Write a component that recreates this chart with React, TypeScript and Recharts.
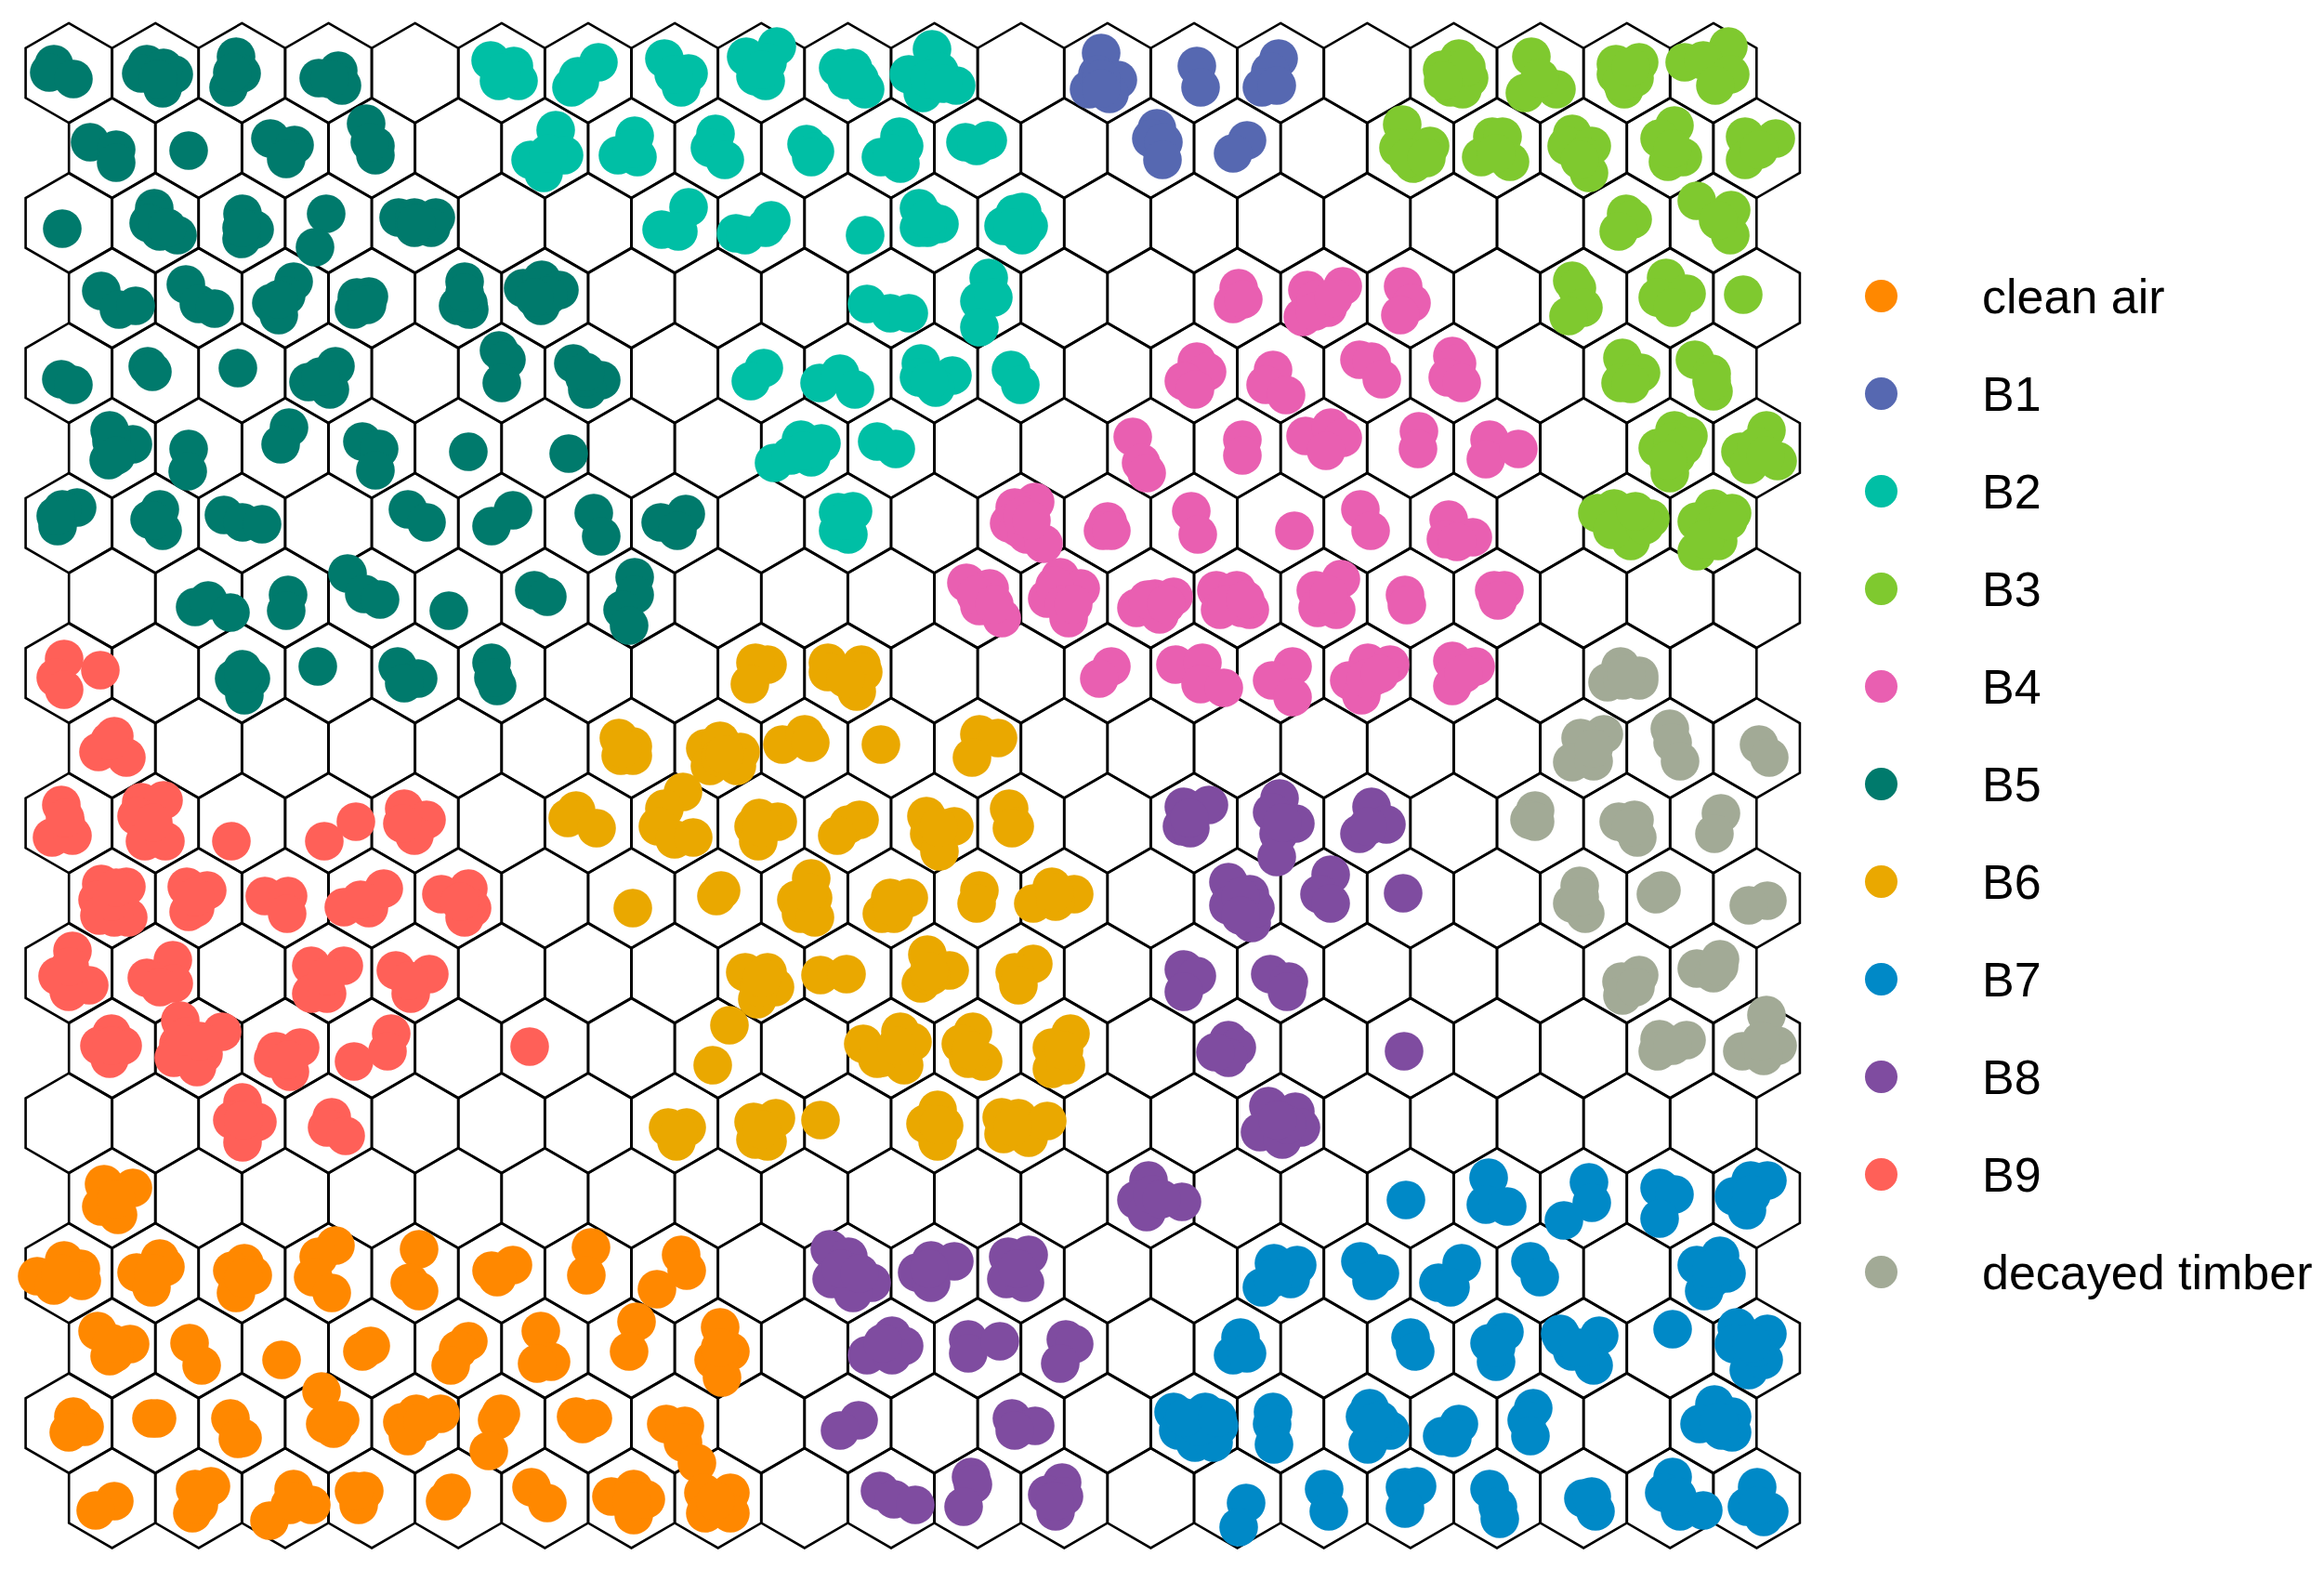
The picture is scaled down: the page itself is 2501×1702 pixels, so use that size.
import { Legend, Scatter, ScatterChart, XAxis, YAxis } from "recharts";

type Pair = [number, number];

// All positions are in map units (one unit = one reference pixel).
const ROW_Y = [78.5, 159.2, 239.9, 320.6, 401.3, 482, 562.7, 643.4, 724.1, 804.8, 885.5, 966.2, 1046.9, 1127.6, 1208.3, 1289, 1369.7, 1450.4, 1531.1, 1611.8];
const ODD_ROW_X = [74, 167.2, 260.3, 353.5, 446.6, 539.8, 632.9, 726.1, 819.2, 912.4, 1005.5, 1098.7, 1191.8, 1285, 1378.1, 1471.3, 1564.4, 1657.6, 1750.7, 1843.9];
const EVEN_ROW_X = [120.6, 213.8, 306.9, 400.1, 493.2, 586.4, 679.5, 772.7, 865.8, 959, 1052.1, 1145.3, 1238.4, 1331.6, 1424.7, 1517.9, 1611, 1704.2, 1797.3, 1890.5];

const cleanAir: Pair[] = [
  [112,1274],[143,1278],[109,1298],[127,1307],[125,1290],
  [40,1373],[69,1356],[87,1365],[58,1383],[88,1378],[65,1370],[172,1354],[178,1363],[147,1369],[163,1385],[165,1370],
  [263,1359],[250,1367],[272,1372],[254,1391],[262,1375],[361,1340],[343,1352],[337,1374],[357,1391],
  [451,1344],[441,1380],[451,1389],[552,1361],[529,1367],[535,1374],[636,1342],[631,1372],
  [733,1350],[739,1367],[707,1387],
  [105,1432],[140,1446],[118,1459],[123,1456],[120,1445],[204,1445],[217,1469],[303,1463],[399,1448],[390,1454],
  [504,1443],[493,1452],[485,1469],[582,1432],[593,1465],[578,1467],[685,1422],[677,1454],
  [775,1428],[786,1454],[768,1463],[777,1482],[775,1450],
  [79,1524],[91,1535],[74,1541],[163,1526],[169,1526],[248,1526],[261,1547],[256,1548],
  [346,1497],[366,1528],[359,1537],[350,1532],[355,1528],[433,1530],[448,1521],[474,1521],[439,1545],[455,1530],
  [539,1521],[535,1528],[526,1561],[620,1524],[638,1526],[627,1532],[717,1532],[737,1534],[735,1552],[750,1574],
  [123,1615],[103,1625],[210,1602],[227,1599],[207,1628],[214,1619],[215,1610],[316,1602],[335,1619],[290,1636],[312,1619],[315,1615],
  [392,1604],[386,1619],[381,1604],[486,1606],[479,1615],[572,1600],[589,1617],
  [658,1610],[682,1602],[682,1630],[695,1613],[680,1615],[757,1606],[786,1606],[759,1628],[786,1628],[770,1615],
];

const b1: Pair[] = [
  [1185,57],[1203,86],[1172,96],[1194,101],[1181,80],[1185,85],[1185,95],[1288,71],[1292,94],
  [1376,63],[1367,77],[1358,94],[1374,92],
  [1245,138],[1239,149],[1252,153],[1251,172],[1342,151],[1327,165],
];

const b2: Pair[] = [
  [528,65],[553,71],[537,87],[558,87],[540,78],[644,67],[622,82],[615,94],[624,88],
  [715,63],[741,79],[733,94],[725,80],[836,50],[803,61],[824,87],[813,82],[826,67],[820,75],
  [902,73],[918,73],[931,96],[911,86],[910,80],[925,85],[1003,53],[978,80],[993,100],[1029,92],[1011,77],[1000,85],[1015,90],
  [598,140],[571,172],[607,167],[585,186],[590,165],[683,146],[686,169],[665,167],[680,160],
  [770,144],[764,159],[780,172],[868,155],[877,163],[873,169],
  [968,147],[973,157],[948,169],[969,176],[960,165],[1039,153],[1063,151],[1051,157],
  [741,223],[712,247],[730,249],[792,251],[802,253],[830,237],[824,245],[931,253],
  [989,224],[1011,241],[989,245],[998,245],[998,235],[1100,228],[1080,243],[1107,243],[1100,253],[1092,230],[1090,245],
  [933,327],[958,337],[978,337],[1064,299],[1054,324],[1069,320],[1054,352],
  [822,396],[808,410],[882,412],[904,402],[920,419],[991,391],[1025,404],[1007,417],[989,406],[1000,410],[1088,398],[1098,414],
  [833,498],[862,473],[884,477],[873,492],[851,490],[865,485],[944,475],[964,483],
  [918,550],[902,551],[913,575],[902,571],[910,560],
];

const b3: Pair[] = [
  [1570,63],[1552,75],[1581,84],[1561,94],[1574,96],[1578,72],[1553,87],[1648,61],[1641,100],[1675,96],[1657,84],
  [1764,67],[1739,69],[1739,80],[1748,96],[1759,84],[1745,88],[1755,72],[1860,50],[1813,67],[1833,65],[1862,80],[1846,92],
  [1509,134],[1505,159],[1539,157],[1521,176],[1515,170],[1535,170],[1606,147],[1617,147],[1594,169],[1625,174],[1610,165],
  [1692,144],[1686,157],[1713,157],[1710,186],[1704,168],[1700,172],[1802,135],[1786,149],[1811,169],[1795,174],[1800,160],
  [1878,147],[1911,149],[1878,172],[1893,161],
  [1750,230],[1757,236],[1742,249],[1826,216],[1863,226],[1862,253],[1849,237],
  [1692,302],[1697,310],[1704,331],[1688,340],[1793,299],[1784,320],[1815,316],[1800,331],[1876,317],
  [1746,385],[1766,401],[1744,412],[1755,413],[1824,387],[1842,402],[1844,421],[1842,410],
  [1802,463],[1817,469],[1784,482],[1797,509],[1804,490],[1800,475],[1812,480],[1795,495],[1901,463],[1873,486],[1913,496],[1882,500],[1890,480],[1900,490],
  [1737,547],[1719,552],[1776,558],[1755,563],[1755,582],[1735,570],[1770,565],[1760,550],
  [1844,547],[1864,552],[1826,561],[1842,575],[1826,593],[1849,582],[1845,565],[1835,580],[1860,560],
];

const b4: Pair[] = [
  [1333,310],[1327,327],[1338,322],[1407,312],[1445,308],[1429,331],[1402,341],[1416,322],[1415,335],[1435,320],[1510,308],[1519,326],[1507,339],
  [1288,389],[1299,400],[1274,410],[1286,419],[1370,398],[1362,414],[1384,425],
  [1463,387],[1476,389],[1487,408],[1563,383],[1568,391],[1558,406],[1573,412],
  [1219,470],[1228,498],[1234,509],[1337,473],[1337,490],[1405,469],[1432,460],[1445,471],[1427,485],
  [1527,464],[1526,483],[1603,473],[1599,494],[1634,483],
  [1114,540],[1092,546],[1086,563],[1096,568],[1105,575],[1123,585],[1100,555],[1110,560],[1192,561],[1187,571],[1196,571],
  [1282,550],[1289,575],[1393,571],[1464,548],[1475,571],[1559,559],[1585,578],[1556,580],[1568,583],
  [1040,627],[1065,633],[1054,652],[1078,665],[1050,640],[1070,650],[1141,621],[1163,633],[1127,644],[1150,665],[1135,630],[1145,650],[1155,650],
  [1223,654],[1263,642],[1248,661],[1243,644],[1235,645],[1255,650],[1309,635],[1331,635],[1345,656],[1313,656],[1336,654],[1320,650],[1340,645],
  [1443,623],[1416,635],[1418,654],[1438,656],[1430,640],[1512,640],[1514,651],[1608,635],[1619,635],[1612,646],
  [1196,717],[1183,730],[1265,715],[1294,713],[1292,736],[1317,740],[1391,717],[1369,732],[1391,750],
  [1472,713],[1496,715],[1452,732],[1465,748],[1478,728],[1470,730],[1485,725],[1563,711],[1588,717],[1563,738],[1575,725],
];

const b5: Pair[] = [
  [58,69],[53,78],[79,85],[158,69],[152,79],[187,80],[175,95],[176,73],[170,85],[254,61],[260,79],[246,94],[250,78],[364,76],[343,84],[368,92],[355,85],
  [97,153],[125,161],[125,175],[203,162],[291,149],[317,156],[308,171],[394,133],[404,157],[404,167],[398,153],
  [67,246],[166,224],[165,232],[172,249],[191,253],[160,240],[180,245],[261,230],[274,247],[260,257],[260,245],[351,230],[339,266],
  [429,234],[446,234],[469,234],[446,245],[464,245],[448,240],
  [109,313],[128,333],[146,329],[200,306],[214,327],[231,332],[316,303],[292,326],[300,339],[308,318],[300,322],
  [397,319],[384,320],[381,333],[395,328],[500,303],[504,326],[493,329],[505,333],[500,315],[563,310],[583,301],[602,312],[582,329],[590,318],[575,320],
  [66,408],[79,414],[159,394],[164,400],[256,396],[361,394],[332,411],[355,419],[345,405],[537,377],[545,387],[540,412],
  [617,391],[647,409],[632,419],[629,406],[630,400],
  [118,463],[143,478],[117,495],[120,475],[120,470],[125,490],[203,483],[202,507],[311,460],[302,478],[390,475],[408,483],[404,506],[504,486],[612,488],
  [83,546],[67,548],[62,566],[60,555],[172,548],[161,559],[175,571],[165,560],[241,554],[261,562],[282,564],[439,548],[459,562],
  [552,549],[529,566],[639,552],[647,577],[738,553],[711,562],[729,571],
  [210,653],[224,646],[248,659],[310,640],[308,657],[374,617],[392,639],[409,645],[483,657],[575,635],[589,642],
  [683,621],[683,640],[670,656],[677,673],
  [261,720],[252,730],[270,730],[263,748],[262,725],[342,717],[428,717],[450,730],[435,735],[529,713],[535,738],[531,729],
];

const b6: Pair[] = [
  [826,715],[813,713],[807,736],[891,713],[891,723],[927,715],[929,723],[922,744],[910,730],
  [666,794],[681,803],[668,813],[681,813],[670,805],[759,805],[775,797],[797,809],[764,824],[793,824],[775,815],[780,812],
  [842,801],[866,790],[872,799],[948,801],[1054,790],[1074,794],[1046,815],
  [620,872],[611,880],[642,891],[735,852],[715,870],[708,889],[726,903],[746,901],
  [817,880],[837,884],[811,889],[816,905],[820,890],[925,882],[913,887],[901,899],
  [997,878],[1027,889],[1000,897],[1011,916],[1010,890],[1086,870],[1092,889],[1089,891],
  [681,977],[776,958],[771,964],[873,945],[857,968],[875,966],[862,983],[877,987],[870,960],
  [958,966],[978,966],[949,983],[962,983],[960,975],[1054,958],[1051,972],[1132,954],[1156,962],[1112,972],[1136,970],[1135,960],
  [802,1046],[826,1046],[834,1062],[815,1075],[817,1062],[820,1052],[883,1049],[911,1048],
  [998,1027],[1022,1044],[991,1058],[1002,1050],[1000,1045],[1112,1037],[1092,1046],[1096,1060],
  [785,1103],[767,1146],[969,1110],[929,1123],[982,1121],[949,1138],[973,1146],[944,1139],[965,1125],
  [1047,1110],[1034,1123],[1058,1142],[1042,1139],[1045,1130],[1152,1112],[1132,1127],[1132,1150],[1147,1146],[1145,1130],
  [719,1213],[739,1213],[728,1228],[730,1220],[811,1207],[835,1203],[813,1226],[826,1228],[820,1215],[883,1205],
  [1009,1194],[996,1209],[1016,1211],[1009,1228],[1010,1210],[1078,1202],[1096,1203],[1080,1220],[1107,1224],[1127,1206],[1090,1212],
];

const b7: Pair[] = [
  [1513,1291],[1602,1267],[1599,1296],[1622,1298],[1710,1272],[1713,1294],[1683,1313],
  [1786,1278],[1802,1285],[1786,1311],[1884,1270],[1902,1270],[1866,1287],[1880,1302],[1885,1285],
  [1371,1359],[1396,1361],[1358,1385],[1389,1376],[1390,1365],[1370,1375],[1464,1357],[1485,1370],[1476,1378],
  [1573,1359],[1548,1380],[1561,1385],[1647,1357],[1657,1374],[1851,1351],[1826,1361],[1858,1370],[1834,1389],[1842,1376],[1842,1365],
  [1335,1439],[1327,1458],[1342,1456],[1518,1439],[1523,1454],[1619,1433],[1603,1445],[1610,1465],[1610,1450],
  [1679,1435],[1721,1437],[1692,1454],[1715,1469],[1681,1439],[1700,1450],[1800,1430],
  [1869,1428],[1902,1435],[1866,1446],[1882,1474],[1898,1463],[1890,1450],[1885,1445],
  [1263,1519],[1297,1519],[1268,1539],[1312,1534],[1286,1552],[1306,1552],[1290,1535],[1275,1525],[1310,1525],[1370,1519],[1369,1532],[1371,1554],
  [1474,1515],[1469,1524],[1496,1539],[1472,1554],[1485,1528],[1480,1530],[1570,1532],[1552,1545],[1563,1547],
  [1650,1515],[1643,1528],[1647,1545],[1845,1511],[1829,1532],[1864,1524],[1864,1541],[1853,1539],[1850,1530],
  [1341,1617],[1333,1643],[1425,1602],[1430,1626],[1512,1600],[1525,1599],[1512,1623],
  [1603,1602],[1612,1621],[1614,1634],[1704,1612],[1717,1626],[1713,1610],
  [1800,1589],[1791,1606],[1808,1626],[1833,1625],[1805,1610],[1891,1600],[1880,1621],[1904,1626],[1898,1632],[1892,1620],
];

const b8: Pair[] = [
  [1274,868],[1301,866],[1272,889],[1281,891],[1280,880],[1377,859],[1369,874],[1394,886],[1376,897],[1374,922],[1380,885],
  [1476,868],[1463,897],[1492,887],[1472,889],
  [1322,949],[1345,962],[1347,993],[1322,974],[1351,977],[1335,965],[1335,985],[1432,941],[1420,962],[1432,972],[1510,961],
  [1274,1043],[1288,1050],[1274,1067],[1367,1048],[1387,1056],[1385,1067],
  [1322,1119],[1331,1127],[1322,1138],[1308,1132],[1511,1131],
  [1365,1190],[1394,1196],[1356,1218],[1400,1213],[1380,1226],[1385,1210],[1375,1205],
  [1236,1270],[1223,1291],[1272,1293],[1234,1304],[1240,1285],[1250,1290],
  [893,1344],[913,1352],[895,1376],[938,1380],[918,1391],[905,1365],[925,1370],[1002,1356],[1027,1357],[987,1369],[1002,1380],[1000,1365],
  [1085,1352],[1107,1350],[1083,1376],[1103,1380],[1095,1365],
  [960,1437],[973,1448],[933,1458],[960,1458],[950,1445],[1042,1441],[1042,1456],[1076,1443],[1147,1441],[1156,1446],[1141,1467],
  [924,1528],[904,1539],[1089,1526],[1114,1534],[1092,1539],
  [947,1604],[962,1613],[985,1619],[1045,1589],[1047,1597],[1037,1621],[1143,1595],[1127,1608],[1145,1610],[1136,1626],[1135,1615],
];

const b9: Pair[] = [
  [69,709],[60,729],[69,742],[108,721],[123,792],[106,809],[136,815],[118,797],
  [66,866],[71,886],[56,901],[78,899],[70,880],[152,863],[176,861],[147,878],[156,905],[178,905],[165,885],[249,905],
  [349,905],[383,884],[435,870],[459,882],[446,899],[433,886],
  [109,951],[136,954],[105,968],[107,985],[138,987],[123,987],[120,970],[125,955],[201,954],[223,958],[203,981],[210,977],[210,965],
  [285,964],[310,964],[309,983],[370,976],[397,977],[413,956],[388,968],[504,956],[475,962],[508,977],[500,987],[495,970],
  [78,1023],[62,1050],[96,1060],[74,1067],[75,1040],[186,1033],[158,1052],[187,1058],[172,1062],
  [335,1039],[370,1039],[335,1069],[352,1069],[352,1050],[426,1044],[462,1048],[442,1069],[440,1055],
  [120,1112],[107,1125],[132,1125],[118,1139],[120,1125],[194,1098],[192,1123],[239,1110],[187,1138],[219,1134],[212,1148],[200,1115],[215,1120],
  [297,1131],[323,1127],[312,1153],[294,1139],[310,1140],[381,1142],[421,1112],[417,1131],[570,1126],
  [261,1186],[277,1207],[250,1205],[261,1229],[262,1205],[357,1202],[352,1213],[372,1222],
];

const decayedTimber: Pair[] = [
  [1744,717],[1764,727],[1730,734],[1764,732],[1746,732],[1750,725],
  [1726,790],[1701,794],[1692,820],[1715,819],[1715,805],[1797,784],[1800,799],[1808,819],[1893,801],[1904,815],
  [1652,872],[1646,882],[1652,884],[1742,884],[1759,882],[1762,901],[1755,890],[1852,875],[1845,897],
  [1700,953],[1692,972],[1706,983],[1700,965],[1788,958],[1782,962],[1902,969],[1882,974],
  [1764,1049],[1745,1056],[1746,1071],[1760,1062],[1851,1032],[1826,1042],[1844,1047],[1850,1040],
  [1786,1118],[1815,1119],[1784,1131],[1800,1125],[1901,1092],[1913,1125],[1875,1131],[1898,1136],[1895,1120],
];

const SERIES = [
  { name: "clean air", color: "#FF8800", points: cleanAir },
  { name: "B1", color: "#5668B1", points: b1 },
  { name: "B2", color: "#00BFA5", points: b2 },
  { name: "B3", color: "#7FC92F", points: b3 },
  { name: "B4", color: "#E95FB1", points: b4 },
  { name: "B5", color: "#007A6C", points: b5 },
  { name: "B6", color: "#EAA800", points: b6 },
  { name: "B7", color: "#0089C7", points: b7 },
  { name: "B8", color: "#7F4CA0", points: b8 },
  { name: "B9", color: "#FF6058", points: b9 },
  { name: "decayed timber", color: "#A2AA96", points: decayedTimber },
];

const WIDTH = 2501;
const HEIGHT = 1702;
const HEX_RADIUS = 53.6;
const DOT_RADIUS = 20.8;
const FONT = '"Liberation Sans", Arial, sans-serif';

const hexCells = ROW_Y.flatMap((y, i) => (i % 2 === 0 ? ODD_ROW_X : EVEN_ROW_X).map((x) => ({ x, y })));

function HexCell({ cx, cy }: { cx?: number; cy?: number }) {
  const r = HEX_RADIUS;
  const w = (r * Math.sqrt(3)) / 2;
  const x = cx ?? 0;
  const y = cy ?? 0;
  const points = [
    [x, y - r],
    [x + w, y - r / 2],
    [x + w, y + r / 2],
    [x, y + r],
    [x - w, y + r / 2],
    [x - w, y - r / 2],
  ]
    .map((p) => p.join(","))
    .join(" ");
  return <polygon points={points} fill="none" stroke="#000" strokeWidth={2.6} strokeLinejoin="miter" />;
}

// Scatter ignores a fixed ZAxis range without a z key, so the dot size is set here.
function PointDot({ cx, cy, fill }: { cx?: number; cy?: number; fill?: string }) {
  return <circle cx={cx} cy={cy} r={DOT_RADIUS} fill={fill} />;
}

function LegendList({ payload }: { payload?: { value: string; color: string; type?: string }[] }) {
  const entries = (payload ?? []).filter((entry) => entry.type !== "none");
  return (
    <div style={{ fontFamily: FONT, fontSize: 52, color: "#000" }}>
      {entries.map((entry) => (
        <div key={entry.value} style={{ display: "flex", alignItems: "center", height: 105 }}>
          <span style={{ width: 35, height: 35, borderRadius: "50%", background: entry.color, marginRight: 91 }} />
          <span style={{ whiteSpace: "nowrap" }}>{entry.value}</span>
        </div>
      ))}
    </div>
  );
}

export default function App() {
  return (
    <div style={{ position: "absolute", left: 0, top: 0, width: WIDTH, height: HEIGHT, background: "#fff" }}>
      <ScatterChart width={WIDTH} height={HEIGHT} margin={{ top: 0, right: 0, bottom: 0, left: 0 }}>
        <XAxis type="number" dataKey="x" domain={[0, WIDTH]} hide />
        <YAxis type="number" dataKey="y" domain={[0, HEIGHT]} reversed hide />
        {/* centred + middle keeps the legend from taking space out of the plot area */}
        <Legend
          layout="vertical"
          align="center"
          verticalAlign="middle"
          width={500}
          itemSorter={null}
          wrapperStyle={{ left: 2007, top: 266 }}
          content={(props) => <LegendList payload={props.payload as { value: string; color: string; type?: string }[]} />}
        />
        <Scatter data={hexCells} shape={HexCell} legendType="none" isAnimationActive={false} />
        {SERIES.map((s) => (
          <Scatter
            key={s.name}
            name={s.name}
            data={s.points.map(([x, y]) => ({ x, y }))}
            fill={s.color}
            shape={PointDot}
            isAnimationActive={false}
          />
        ))}
      </ScatterChart>
    </div>
  );
}
